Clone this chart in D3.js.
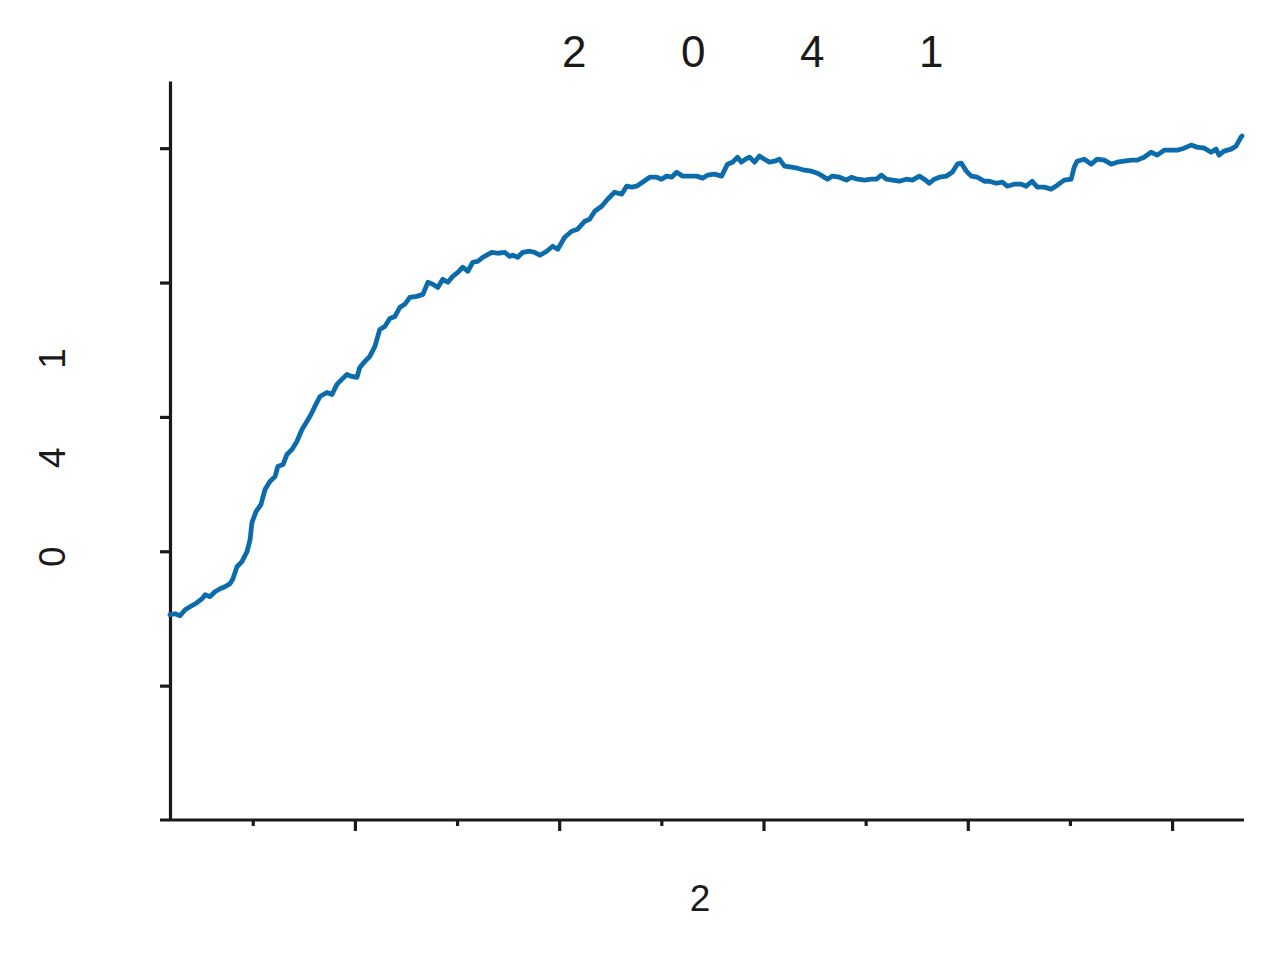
<!DOCTYPE html>
<html>
<head>
    <title>2041</title>
    <script src="https://d3js.org/d3.v7.min.js"></script>
    <style>
        body { margin: 0; background: #fff; }
        .axis path, .axis line {
            stroke: #1a1a1a;
            stroke-width: 3.2px;
        }
        .lbl {
            font-family: "Liberation Sans", Arial, sans-serif;
            fill: #1a1a1a;
        }
    </style>
</head>
<body>
<script>
    var width = 1280, height = 960;

    // title / axis labels as in the picture
    var titleText = "2041";
    var yLabelText = "041";
    var xLabelText = "2";

    // ticks
    var xMajorTicks = [100, 200, 300, 400, 500];
    var xMinorTicks = [50, 150, 250, 350, 450];
    var yTicks = [10, 20, 30, 40, 50];

    // series
    var xs = [
        9.5, 12.0, 14.4, 16.9, 19.3, 22.7, 25.2, 26.7, 29.1, 31.5,
        34.0, 36.4, 38.9, 40.3, 42.3, 44.7, 47.2, 48.7, 49.6, 51.6,
        54.0, 56.0, 58.4, 60.9, 62.3, 64.8, 66.7, 69.2, 71.6, 74.1,
        76.5, 78.5, 80.4, 82.9, 86.3, 88.8, 91.2, 93.6, 96.1, 98.5,
        101.0, 102.4, 104.9, 107.3, 109.8, 112.2, 114.7, 117.1, 119.6, 122.0,
        124.4, 126.9, 130.3, 133.3, 135.7, 138.1, 140.6, 143.0, 145.5, 147.9,
        150.4, 152.8, 155.3, 157.7, 160.1, 162.6, 167.0, 169.9, 173.4, 175.8,
        177.3, 179.7, 182.2, 185.6, 188.0, 190.5, 193.9, 196.8, 199.3, 202.7,
        206.1, 209.0, 212.5, 214.9, 217.4, 220.8, 223.7, 227.1, 230.6, 233.0,
        235.5, 237.9, 240.8, 244.3, 247.7, 250.1, 252.6, 255.0, 257.5, 260.4,
        263.8, 267.3, 270.2, 272.6, 276.0, 279.5, 282.4, 284.8, 287.3, 289.2,
        291.2, 293.2, 295.6, 298.0, 300.5, 302.9, 305.4, 307.8, 310.3, 313.7,
        316.6, 320.1, 323.5, 326.4, 328.9, 331.3, 333.7, 337.2, 340.6, 343.0,
        346.0, 349.4, 352.8, 355.3, 357.7, 360.1, 363.1, 366.5, 369.9, 372.9,
        376.3, 378.7, 381.2, 383.6, 386.1, 389.5, 392.4, 394.9, 396.8, 399.3,
        401.7, 404.7, 408.1, 410.5, 413.9, 416.9, 419.3, 422.7, 426.2, 428.6,
        431.5, 434.0, 437.4, 440.8, 443.8, 447.2, 450.6, 452.1, 453.5, 457.0,
        460.4, 463.3, 466.8, 470.2, 473.1, 476.5, 480.0, 482.9, 486.3, 489.7,
        492.7, 496.1, 499.5, 502.5, 505.9, 509.3, 512.2, 515.7, 519.1, 521.5,
        523.0, 525.4, 528.9, 531.3, 533.7, 534.2
    ];
    var ys = [
        15.28, 15.35, 15.20, 15.65, 15.87, 16.17, 16.47, 16.77, 16.62, 16.99,
        17.21, 17.36, 17.59, 17.96, 18.85, 19.23, 19.97, 20.87, 22.13, 22.95,
        23.47, 24.59, 25.19, 25.56, 26.31, 26.45, 27.20, 27.57, 28.17, 29.06,
        29.66, 30.18, 30.78, 31.52, 31.82, 31.67, 32.42, 32.79, 33.16, 33.01,
        32.94, 33.68, 34.13, 34.50, 35.25, 36.51, 36.74, 37.33, 37.48, 38.15,
        38.38, 38.90, 38.97, 39.12, 40.02, 39.87, 39.64, 40.24, 40.02, 40.46,
        40.76, 41.14, 40.84, 41.51, 41.58, 41.88, 42.25, 42.18, 42.25, 41.95,
        42.03, 41.88, 42.25, 42.33, 42.25, 42.03, 42.33, 42.70, 42.48, 43.37,
        43.82, 43.97, 44.56, 44.71, 45.31, 45.68, 46.20, 46.72, 46.58, 47.17,
        47.10, 47.17, 47.47, 47.84, 47.84, 47.69, 47.92, 47.84, 48.21, 47.92,
        47.92, 47.92, 47.77, 47.99, 48.07, 47.92, 48.81, 48.96, 49.33, 48.96,
        49.18, 49.33, 48.96, 49.41, 49.18, 48.96, 49.03, 49.18, 48.66, 48.59,
        48.51, 48.36, 48.29, 48.14, 47.92, 47.69, 47.92, 47.84, 47.62, 47.84,
        47.69, 47.62, 47.69, 47.69, 47.99, 47.69, 47.62, 47.54, 47.69, 47.62,
        47.92, 47.69, 47.39, 47.69, 47.84, 47.92, 48.21, 48.81, 48.89, 48.29,
        47.92, 47.84, 47.54, 47.54, 47.39, 47.47, 47.17, 47.32, 47.32, 47.17,
        47.54, 47.10, 47.10, 46.95, 47.25, 47.62, 47.69, 48.59, 49.03, 49.18,
        48.81, 49.18, 49.11, 48.81, 48.96, 49.03, 49.11, 49.11, 49.33, 49.70,
        49.48, 49.85, 49.85, 49.85, 50.00, 50.23, 50.08, 50.00, 49.70, 49.93,
        49.48, 49.78, 49.93, 50.15, 50.82, 50.90
    ];

    var data = xs.map(function(x, i) { return {x: x, y: ys[i]}; });

    var svg = d3.select("body").append("svg")
        .attr("width", width)
        .attr("height", height);

    var x = d3.scaleLinear().domain([9.5, 535.2]).range([170, 1244]);
    var y = d3.scaleLinear().domain([0, 55]).range([820, 81]);

    // x axis: minor ticks then major ticks
    var xMinor = svg.append("g")
        .attr("class", "axis")
        .attr("transform", "translate(0,820)")
        .call(d3.axisBottom(x).tickValues(xMinorTicks).tickSize(6).tickSizeOuter(0).tickFormat(""));
    xMinor.select(".domain").remove();

    var xAxis = svg.append("g")
        .attr("class", "axis")
        .attr("transform", "translate(0,820)")
        .call(d3.axisBottom(x).tickValues(xMajorTicks).tickSize(11).tickSizeOuter(0).tickFormat(""));
    // the baseline runs out under the y ticks
    xAxis.select(".domain").attr("d", "M" + (x.range()[0] - 10) + ",0H" + x.range()[1]);

    var yAxis = svg.append("g")
        .attr("class", "axis")
        .attr("transform", "translate(170,0)")
        .call(d3.axisLeft(y).tickValues(yTicks).tickSize(10).tickSizeOuter(0).tickFormat(""));

    svg.selectAll(".axis path").attr("fill", "none");

    var line = d3.line()
        .x(function(d) { return x(d.x); })
        .y(function(d) { return y(d.y); });

    svg.append("path")
        .datum(data)
        .attr("fill", "none")
        .attr("stroke", "#0c6cab")
        .attr("stroke-width", 4.8)
        .attr("stroke-linejoin", "round")
        .attr("stroke-linecap", "round")
        .attr("d", line);

    // title, letters spread wide
    svg.append("text")
        .attr("class", "lbl")
        .attr("x", 562)
        .attr("y", 67)
        .attr("font-size", 44)
        .attr("letter-spacing", 94.5)
        .text(titleText);

    // y label, reads bottom to top
    svg.append("text")
        .attr("class", "lbl")
        .attr("transform", "translate(65,567) rotate(-90)")
        .attr("font-size", 37)
        .attr("letter-spacing", 78.5)
        .text(yLabelText);

    svg.append("text")
        .attr("class", "lbl")
        .attr("x", 700)
        .attr("y", 911)
        .attr("text-anchor", "middle")
        .attr("font-size", 37)
        .text(xLabelText);
</script>
</body>
</html>
